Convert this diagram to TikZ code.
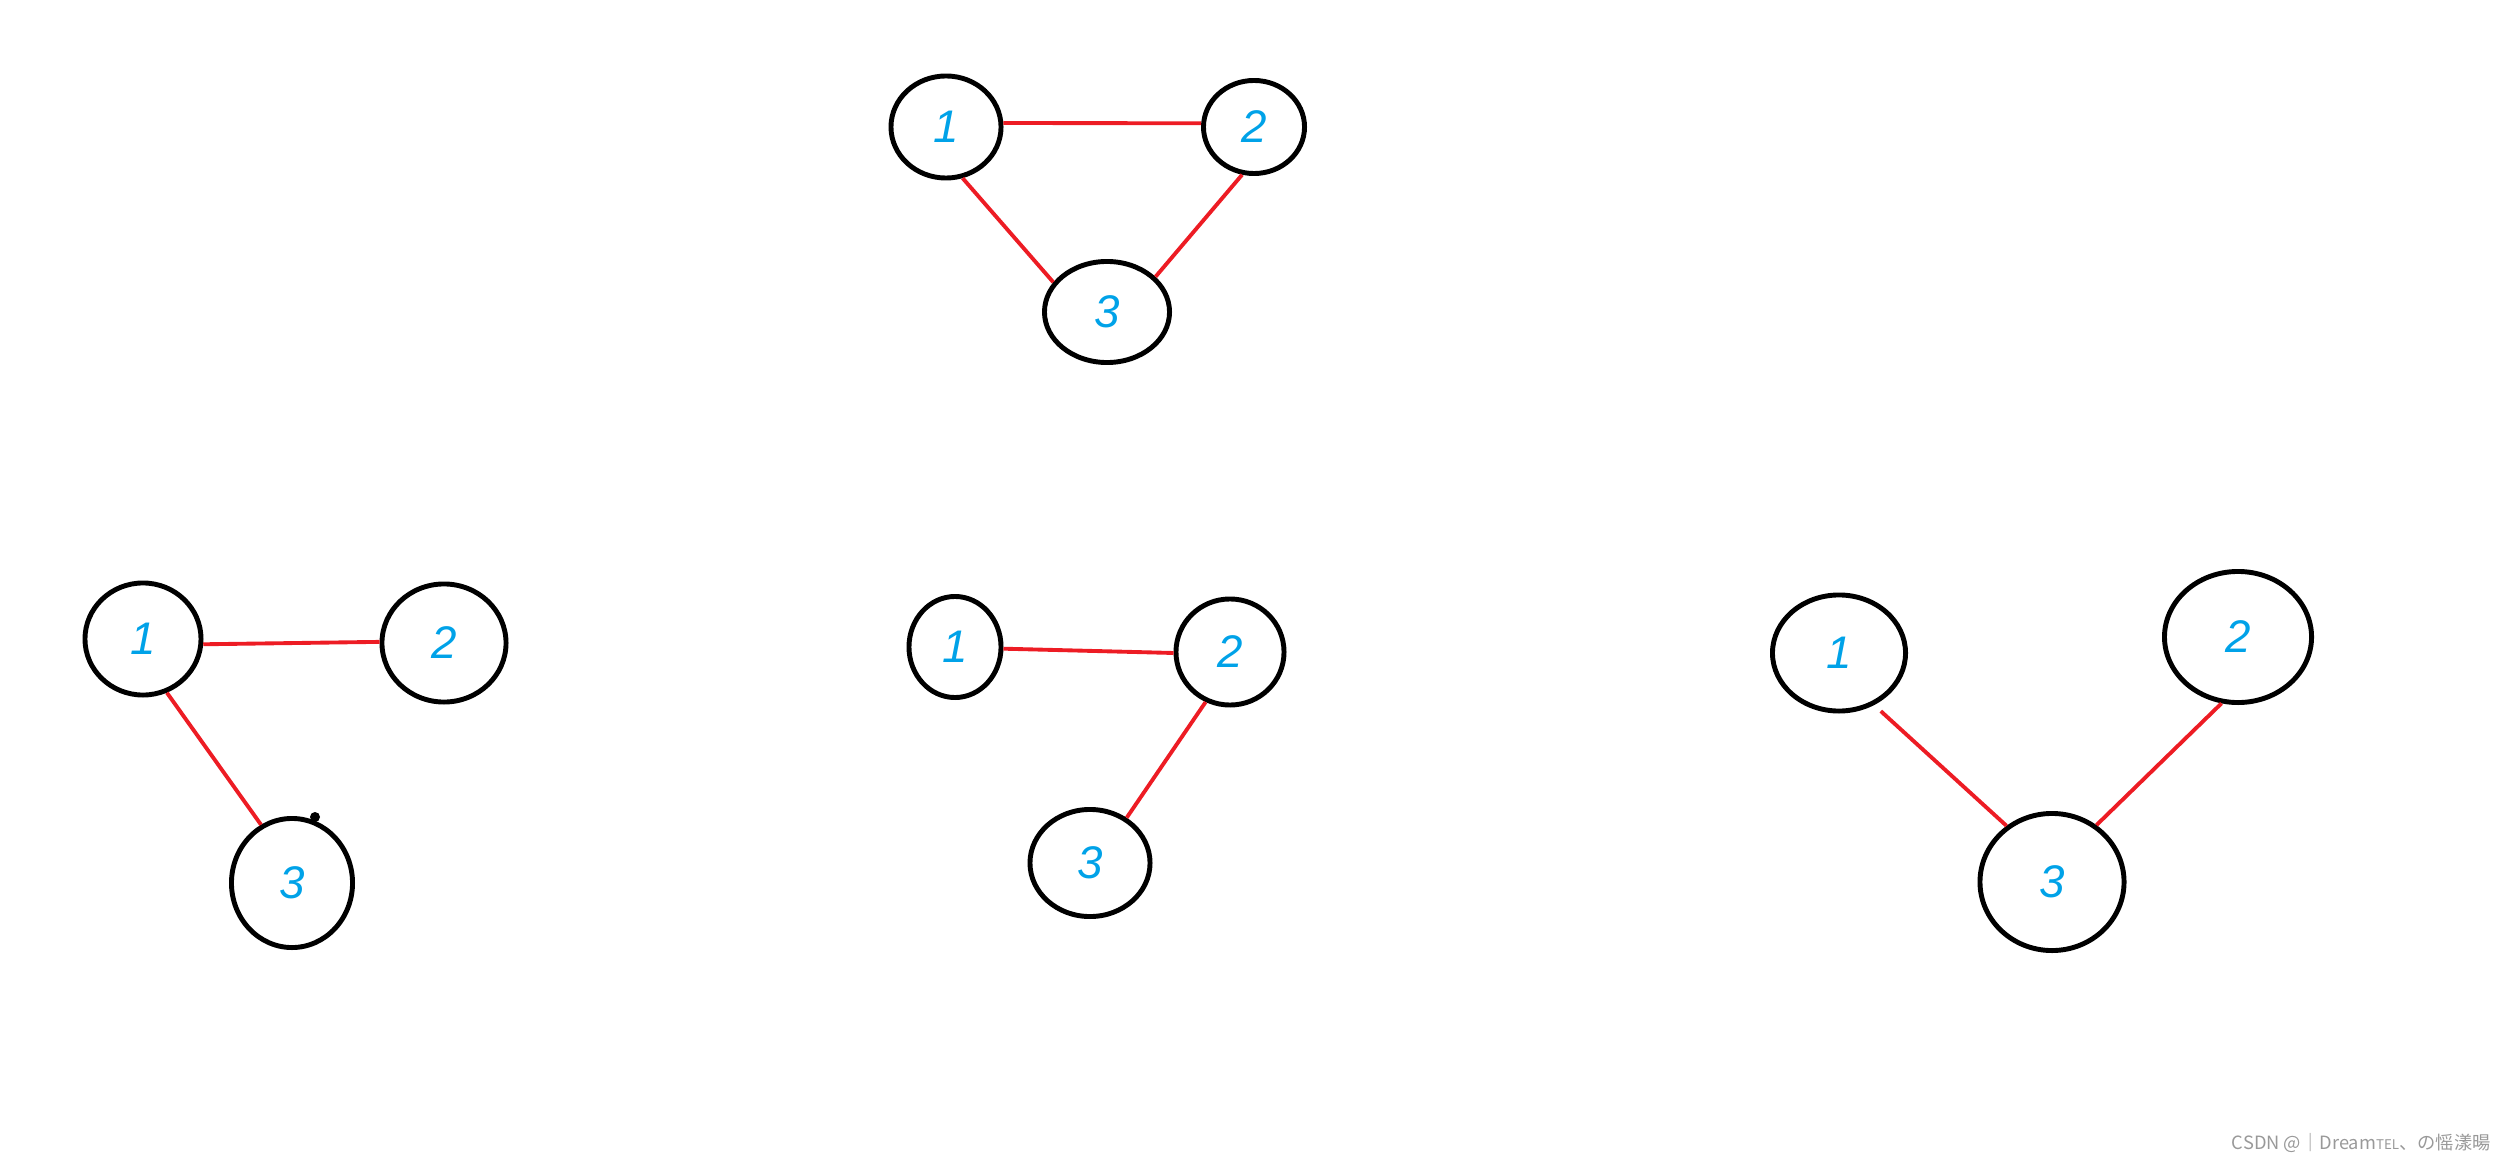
\documentclass[tikz,border=0pt]{standalone}
\usepackage{fontspec}
\setmainfont{Liberation Sans}
\newfontfamily\cjkfont{Noto Sans CJK SC}
\usetikzlibrary{shapes.geometric}
\definecolor{numblue}{RGB}{0,162,232}
\definecolor{linkred}{RGB}{237,28,36}

\begin{document}
\begin{tikzpicture}[
    x=0.01cm, y=-0.01cm,
    vert/.style={
        ellipse, draw=black, line width=1.4pt, inner sep=0pt,
        font=\fontsize{13}{13}\selectfont\itshape, text=numblue
    },
    link/.style={draw=linkred, line width=1.1pt},
    mark text/.style={font=\cjkfont\fontsize{5.2}{6}\selectfont, text=black!40, anchor=east}
]
\useasboundingbox (0,0) rectangle (2519,1164);

% ---------------- Top: full triangle ----------------
\node[vert, minimum width=1.10cm, minimum height=1.02cm] (t1) at (946,127) {1};
\node[vert, minimum width=1.01cm, minimum height=0.93cm] (t2) at (1254,127) {2};
\node[vert, minimum width=1.25cm, minimum height=1.01cm] (t3) at (1107,312) {3};

\draw[link] (t1.4) -- (t2.176);
\draw[link] (t1.-72) -- (t3.151);
\draw[link] (t2.-104) -- (t3.36);

% ---------------- Bottom left ----------------
\node[vert, minimum width=1.16cm, minimum height=1.12cm] (a1) at (143,639) {1};
\node[vert, minimum width=1.24cm, minimum height=1.18cm] (a2) at (444,643) {2};
\node[vert, minimum width=1.21cm, minimum height=1.29cm] (a3) at (292,883) {3};

\draw[link] (a1.-5) -- (a2.179);
\draw[link] (a1.-66) -- (a3.118);
\fill (315,817) circle[radius=5];

% ---------------- Bottom middle ----------------
\node[vert, minimum width=0.92cm, minimum height=1.01cm] (b1) at (955,647) {1};
\node[vert, minimum width=1.08cm, minimum height=1.06cm] (b2) at (1230,652) {2};
\node[vert, minimum width=1.20cm, minimum height=1.07cm] (b3) at (1090,863) {3};

\draw[link] (b1.-2) -- (b2.181);
\draw[link] (b2.-116) -- (b3.51);

% ---------------- Bottom right ----------------
\node[vert, minimum width=1.33cm, minimum height=1.16cm] (c1) at (1839,653) {1};
\node[vert, minimum width=1.47cm, minimum height=1.31cm] (c2) at (2238,637) {2};
\node[vert, minimum width=1.44cm, minimum height=1.37cm] (c3) at (2052,882) {3};

\draw[link, shorten <=0.09cm] (c1.-56) -- (c3.129);
\draw[link] (c2.-104) -- (c3.52);

% ---------------- Watermark ----------------
\node[mark text] (wm) at (2503,1143) {CSDN @｜Dream{\fontsize{3.8}{5}\selectfont TEL}、の愮漾暘};

\end{tikzpicture}
\end{document}
